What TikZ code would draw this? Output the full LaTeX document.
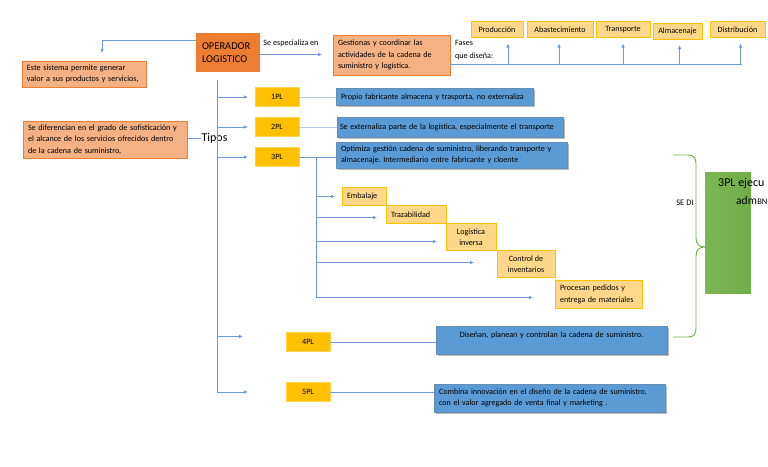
\documentclass[tikz,border=0pt]{standalone}
\usepackage{fontspec}
\setmainfont{Carlito}
\usetikzlibrary{
    positioning,
    shadows,
    arrows.meta,
}
\frenchspacing
\hyphenpenalty=10000
\exhyphenpenalty=10000
\definecolor{naranja}{HTML}{ED7D31}
\definecolor{salmon}{HTML}{F4B183}
\definecolor{oro}{HTML}{FFC000}
\definecolor{oroclaro}{HTML}{FFD78A}
\definecolor{azul}{HTML}{5B9BD5}
\definecolor{azulborde}{HTML}{41719C}
\definecolor{linea}{HTML}{6F97DD}
\definecolor{verde}{HTML}{70AD47}
\definecolor{verdeclaro}{HTML}{7DB655}
\tikzset{
    small/.style={font=\fontsize{8.1}{11.5}\selectfont},
    operador/.style={rectangle, fill=naranja, minimum width=64pt, minimum height=39pt, text width=52pt, inner xsep=6pt, align=left, outer sep=0pt, font=\fontsize{10.5}{13}\selectfont},
    nota/.style={rectangle, draw=naranja, fill=salmon, small, align=left, inner xsep=5pt, inner ysep=3pt, outer sep=0pt},
    fase/.style={rectangle, draw=oro, fill=oroclaro, small, minimum height=16pt, inner xsep=5pt, inner ysep=2pt, outer sep=0pt},
    tipo/.style={rectangle, draw=oro!70!white, fill=oro, small, minimum width=44pt, minimum height=19pt, outer sep=0pt},
    desc/.style={rectangle, draw=azulborde!80, fill=azul, small, align=left, inner xsep=5pt, inner ysep=3pt, outer sep=0pt, drop shadow={shadow xshift=1.5pt, shadow yshift=-1.5pt, fill=black!60, opacity=0.45}},
    cuadroverde/.style={rectangle, left color=verdeclaro, right color=verde, minimum width=46pt, minimum height=121pt, outer sep=0pt},
    link/.style={draw=linea, line width=0.7pt},
    flecha/.style={link, -{Latex[length=4pt, width=3.5pt]}},
    llave/.style={draw=verde, line width=0.9pt},
}

\begin{document}
\begin{tikzpicture}[x=1pt, y=-1pt]
    \useasboundingbox (0,0) rectangle (768,466);

    \node[operador] (operador) at (228,52.5) {OPERADOR\\LOGISTICO};

    \node[nota, text width=114pt, minimum height=26pt] (valor) at (84,74) {Este sistema permite generar\\valor a sus productos y servicios,};

    \node[nota, text width=107pt, minimum height=40pt, right=73pt of operador, yshift=-2.5pt] (gestion) {Gestionas y coordinar las\\actividades de la cadena de\\suministro y logística.};
    \node[small, align=left, anchor=north west, inner sep=0pt] (fases) at ([xshift=5pt, yshift=-5pt]gestion.north east) {Fases\\[1.5pt]que diseña:};

    \node[fase, minimum width=52pt] (produccion) at (497,29.5) {Producción};
    \node[fase, minimum width=66pt, right=4pt of produccion] (abastecimiento) {Abastecimiento};
    \node[fase, minimum width=54pt, right=3pt of abastecimiento] (transporte) {Transporte};
    \node[fase, minimum width=49pt, right=3pt of transporte, yshift=-1.5pt] (almacenaje) {Almacenaje};
    \node[fase, minimum width=55pt, right=8pt of almacenaje, yshift=1.5pt] (distribucion) {Distribución};

    \node[nota, text width=154pt, minimum height=37pt] (diferencian) at (105,139.5) {Se diferencian en el grado de sofisticación y\\el alcance de los servicios ofrecidos dentro\\de la cadena de suministro,};
    \node[font=\fontsize{12}{14}\selectfont, inner sep=0pt] (tipos) at (214.5,138) {Tipos};

    \node[tipo] (pl1) at (277,97) {1PL};
    \node[tipo, below=11pt of pl1] (pl2) {2PL};
    \node[tipo, below=11pt of pl2] (pl3) {3PL};
    \node[tipo, below=166pt of pl3, xshift=31pt] (pl4) {4PL};
    \node[tipo, below=31pt of pl4] (pl5) {5PL};

    \node[desc, text width=187pt, minimum height=17pt, right=37pt of pl1] (d1) {Propio fabricante almacena y trasporta, no externaliza};
    \node[desc, text width=220pt, inner xsep=3pt, minimum height=20pt, right=38pt of pl2] (d2) {Se externaliza parte de la logística, especialmente el transporte};
    \node[desc, text width=221pt, minimum height=26pt, right=37pt of pl3, yshift=2pt] (d3) {Optimiza gestión cadena de suministro, liberando transporte y\\almacenaje. Intermediario entre fabricante y cloente};
    \node[desc, text width=221pt, minimum height=28pt, align=center, right=106pt of pl4, yshift=1.5pt] (d4) {Diseñan, planean y controlan la cadena de suministro.\\\mbox{}};
    \node[desc, text width=221pt, minimum height=28pt, right=104pt of pl5, yshift=-6pt] (d5) {Combina innovación en el diseño de la cadena de suministro,\\con el valor agregado de venta final y marketing .};

    \node[fase, minimum width=44pt, minimum height=18pt, text width=34pt, align=left, below right=21pt and 43pt of pl3] (embalaje) {Embalaje};
    \node[fase, minimum width=60pt, minimum height=18pt, text width=50pt, align=left, below right=0pt and 0pt of embalaje] (trazabilidad) {Trazabilidad};
    \node[fase, minimum width=50pt, minimum height=27pt, align=center, below right=0pt and 0pt of trazabilidad] (logistica) {Logística\\inversa};
    \node[fase, minimum width=58pt, minimum height=27pt, align=center, below right=0pt and 1pt of logistica] (control) {Control de\\inventarios};
    \node[fase, minimum width=87pt, minimum height=28pt, text width=77pt, align=left, below right=3pt and 0pt of control] (procesan) {Procesan pedidos y\\entrega de materiales};

    \node[font=\fontsize{8.5}{10}\selectfont, inner sep=0pt] (sedi) at (685,203) {SE DI};
    \node[cuadroverde] (verde) at (728,232.5) {};
    \node[font=\fontsize{12}{14}\selectfont, anchor=west, inner sep=0pt] (ejecuta) at (718,183) {3PL ejecu};
    \node[font=\fontsize{11.5}{13}\selectfont, anchor=west, inner sep=0pt] (adm) at (736,201) {adm};
    \node[font=\fontsize{8.5}{10}\selectfont, anchor=base west, inner sep=0pt] (bn) at (adm.base east) {BN};

    % ===== CONECTORES =====
    \draw[flecha] ([yshift=12.5pt]operador.west) -| ([xshift=18pt, yshift=8pt]valor.north);
    \draw[flecha] ([yshift=-2pt]operador.east) -- ([xshift=-11pt, yshift=-2pt]operador.east -| gestion.west) node[midway, above=4pt, small] {Se especializa en};

    \draw[link] ([yshift=-9pt]gestion.east) -- ++(292pt,0) coordinate (fasesfin);
    \foreach \f/\dx in {produccion/11, abastecimiento/-1, transporte/0, almacenaje/2, distribucion/3}
        \draw[flecha] ([xshift=\dx pt]\f.south |- fasesfin) -- ([xshift=\dx pt, yshift=-6pt]\f.south);

    \coordinate (tronco) at ([xshift=-11pt, yshift=-8pt]operador.south);
    \draw[link] (tronco) -- (tronco |- pl5);
    \draw[link] (diferencian.east |- tipos) -- (tipos.west);
    \foreach \t/\dx/\dy in {pl1/7/0, pl2/7/0, pl3/7/0, pl4/43/5.5, pl5/38/0}
        \draw[flecha] ([yshift=\dy pt]tronco |- \t) -- ([xshift=-\dx pt, yshift=\dy pt]\t.west);

    \draw[link, opacity=0.5] (pl1) -- (pl1 -| d1.west);
    \draw[link, opacity=0.5] (pl2) -- (pl2 -| d2.west);
    \draw[link] (pl3) -- (pl3 -| d3.west);
    \draw[link] (pl4) -- (pl4 -| d4.west);
    \draw[link] (pl5) -- (pl5 -| d5.west);

    \coordinate[right=17pt of pl3.east] (rama);
    \draw[link] (rama) -- ([yshift=-3pt]rama |- procesan);
    \foreach \s/\dx/\dy in {embalaje/7/0, trazabilidad/9/-3, logistica/9/-4.5, control/23/1.5, procesan/22/-3}
        \draw[flecha] ([yshift=\dy pt]rama |- \s) -- ([xshift=-\dx pt, yshift=\dy pt]\s.west);

    \draw[llave] (673,155) -- (688,155) .. controls (694,155) and (696,158) .. (696,164) -- (696,238)
        .. controls (696,244) and (699,247) .. (verde.west |- 0,247)
        .. controls (699,247) and (696,250) .. (696,256) -- (696,328)
        .. controls (696,334) and (694,337) .. (688,337) -- (673,337);

\end{tikzpicture}
\end{document}
